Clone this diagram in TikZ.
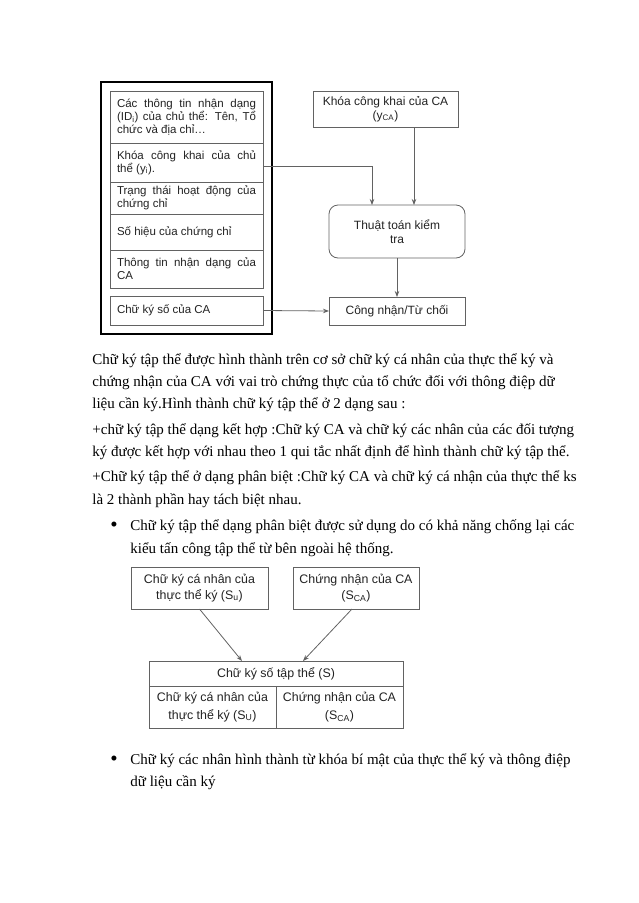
\documentclass[tikz,border=0pt]{standalone}
\usepackage{fontspec}
\setmainfont{Liberation Serif}
\newfontfamily\diagfont{Liberation Sans}
\usetikzlibrary{arrows.meta,positioning,fit}
\definecolor{linegray}{HTML}{626262}
\definecolor{textgray}{HTML}{222222}

\begin{document}
\begin{tikzpicture}[x=1pt,y=-1pt,->,>={Stealth[length=6pt,width=4.5pt]},line width=0.8pt,draw=linegray]
  \tikzstyle{field}=[rectangle,draw=linegray,text=textgray,outer sep=0pt,
                     font=\diagfont\fontsize{11.5}{13}\selectfont,text width=139pt,
                     inner xsep=7pt,inner ysep=0pt,align=justify]
  \tikzstyle{box}=[rectangle,draw=linegray,text=textgray,outer sep=0pt,
                   font=\diagfont\fontsize{12}{13.5}\selectfont,align=center,inner sep=0pt]
  \tikzstyle{box2}=[box,font=\diagfont\fontsize{12.4}{15.5}\selectfont]
  \tikzstyle{para}=[anchor=base west,inner sep=0pt,font=\fontsize{15}{18}\selectfont]
  \tikzstyle{dot}=[anchor=base west,inner sep=0pt,font=\fontsize{21}{18}\selectfont]
  \useasboundingbox (0,0) rectangle (638,903);

  % certificate fields
  \node[field,anchor=north west,minimum height=52pt] (r1) at (110,91)
    {Các thông tin nhận dạng\linebreak (ID\textsubscript{i}) của chủ thể: Tên, Tổ\linebreak chức và địa chỉ…};
  \node[field,minimum height=39pt] (r2) [below=0pt of r1]
    {Khóa công khai của chủ\linebreak thể (y\textsubscript{i}).};
  \node[field,minimum height=32pt] (r3) [below=0pt of r2]
    {Trạng thái hoạt động của\linebreak chứng chỉ};
  \node[field,minimum height=36pt] (r4) [below=0pt of r3] {Số hiệu của chứng chỉ};
  \node[field,minimum height=38pt] (r5) [below=0pt of r4]
    {Thông tin nhận dạng của\linebreak CA};
  \node[field,minimum height=29pt] (r6) [below=8pt of r5] {Chữ ký số của CA};
  \node[draw=black,line width=2.4pt,fit=(r1)(r6),inner sep=9pt] (cert) {};

  \node[box,minimum width=145pt,minimum height=36pt] (pk) at (385.5,109)
    {Khóa công khai của CA\\(y\textsubscript{CA})};
  \node[box,rounded corners=9pt,minimum width=136pt,minimum height=53pt] (check) at (397,231.5)
    {Thuật toán kiểm\\tra};
  \node[box,minimum width=136pt,minimum height=28pt] (result) at (397,311) {Công nhận/Từ chối};

  \draw ([xshift=28.5pt]pk.south) -- ([xshift=28.5pt]pk.south |- check.north);
  \draw ([yshift=-4pt]r2.east) -| ([xshift=-25pt]check.north);
  \draw (check) -- (result);
  \draw (r6.east) -- (result.west);

  % text
  \node[para] (t1) at (92,364) {Chữ ký tập thể được hình thành trên cơ sở chữ ký cá nhân của thực thể ký và};
  \node[para] (t2) at (92,386.5) {chứng nhận của CA với vai trò chứng thực của tổ chức đối với thông điệp dữ};
  \node[para] (t3) at (92,408) {liệu cần ký.Hình thành chữ ký tập thể ở 2 dạng sau :};
  \node[para] (t4) at (92,434) {+chữ ký tập thể dạng kết hợp :Chữ ký CA và chữ ký các nhân của các đối tượng};
  \node[para] (t5) at (92,456.5) {ký được kết hợp với nhau theo 1 qui tắc nhất định để hình thành chữ ký tập thể.};
  \node[para] (t6) at (92,481.5) {+Chữ ký tập thể ở dạng phân biệt :Chữ ký CA và chữ ký cá nhận của thực thể ks};
  \node[para] (t7) at (92,504) {là 2 thành phần hay tách biệt nhau.};
  \node[dot] (d1) at (110,531) {\textbullet};
  \node[para] (b1) at (130,530) {Chữ ký tập thể dạng phân biệt được sử dụng do có khả năng chống lại các};
  \node[para] (b1b) at (130,553) {kiểu tấn công tập thể từ bên ngoài hệ thống.};

  % collective signature
  \node[box2,minimum width=137pt,minimum height=42pt] (su) at (199.5,588)
    {Chữ ký cá nhân của\\thực thể ký (S\textsubscript{u})};
  \node[box2,minimum width=126pt,minimum height=42pt] (sca) at (356,588)
    {Chứng nhận của CA\\(S\textsubscript{CA})};
  \node[box2,anchor=north west,minimum width=254pt,minimum height=25pt] (group) at (149,661)
    {Chữ ký số tập thể (S)};
  \node[box2,anchor=north west,minimum width=127pt,minimum height=42pt,
        font=\diagfont\fontsize{12.4}{17.5}\selectfont] (gsu) at (group.south west)
    {Chữ ký cá nhân của\\thực thể ký (S\textsubscript{U})};
  \node[box2,anchor=north east,minimum width=127pt,minimum height=42pt,
        font=\diagfont\fontsize{12.4}{17.5}\selectfont] (gsca) at (group.south east)
    {Chứng nhận của CA\\(S\textsubscript{CA})};

  \draw (su.south) -- ([xshift=-34pt]group.north);
  \draw ([xshift=-4pt]sca.south) -- ([xshift=27pt]group.north);

  \node[dot] (d2) at (110,765) {\textbullet};
  \node[para] (b2) at (130,764) {Chữ ký các nhân hình thành từ khóa bí mật của thực thể ký và thông điệp};
  \node[para] (b2b) at (130,786) {dữ liệu cần ký};
\end{tikzpicture}
\end{document}
